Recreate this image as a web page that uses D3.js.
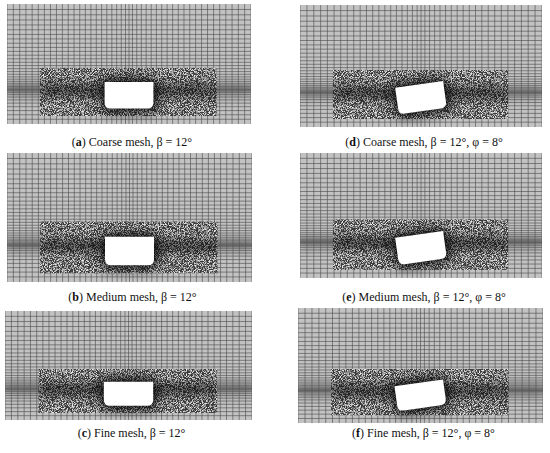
<!DOCTYPE html>
<html><head><meta charset="utf-8">
<script src="https://cdn.jsdelivr.net/npm/d3@7"></script>
<style>body{margin:0;background:#fff}</style>
</head><body>
<svg id="chart" width="550" height="453"></svg>
<script>
// panel data
const labels = ["a", "b", "c", "d", "e", "f"]
const meshNames = ["Coarse mesh", "Medium mesh", "Fine mesh", "Coarse mesh", "Medium mesh", "Fine mesh"]
const heelAngles = [0, 0, 0, 8, 8, 8]   // phi, degrees
const columns = [44, 44, 44, 40, 40, 40]  // vertical grid lines per panel
const rows = [28, 30, 26, 28, 30, 28]     // horizontal grid lines per panel
// panel boxes [x0, y0, x1, y1] and caption baseline
const boxes = [[7, 4, 251, 124], [7, 153, 252, 282], [5, 311, 252, 420],
               [300, 5, 542, 127], [300, 153, 542, 278], [298, 308, 543, 423]]
const captionY = [146, 301, 437, 146, 301, 437]

const svg = d3.select("#chart")
const defs = svg.append("defs")

// speckle texture for the unstructured zone
const f = defs.append("filter").attr("id", "speck").attr("x", 0).attr("y", 0).attr("width", 1).attr("height", 1)
f.append("feTurbulence").attr("type", "fractalNoise").attr("baseFrequency", 1.2).attr("numOctaves", 1).attr("seed", 3).attr("result", "n")
f.append("feColorMatrix").attr("in", "n").attr("type", "matrix")
  .attr("values", "0 0 0 0 0.85  0 0 0 0 0.85  0 0 0 0 0.85  4 0 0 0 -1.8").attr("result", "w")
f.append("feComposite").attr("in", "w").attr("in2", "SourceGraphic").attr("operator", "atop")

const blur = defs.append("filter").attr("id", "halo").attr("x", -1).attr("y", -1).attr("width", 3).attr("height", 3)
blur.append("feGaussianBlur").attr("stdDeviation", 6)

const bandBlur = defs.append("filter").attr("id", "band").attr("x", -0.2).attr("y", -2).attr("width", 1.4).attr("height", 5)
bandBlur.append("feGaussianBlur").attr("stdDeviation", "4 5")

labels.forEach((lab, i) => {
  const [x0, y0, x1, y1] = boxes[i]
  const w = x1 - x0, h = y1 - y0
  const g = svg.append("g").attr("transform", `translate(${x0},${y0})`)
  const clipId = "clip" + i
  defs.append("clipPath").attr("id", clipId).append("rect").attr("width", w).attr("height", h)
  const gc = g.append("g").attr("clip-path", `url(#${clipId})`)

  const x = d3.scaleLinear().domain([0, 1]).range([0, w])
  const y = d3.scaleLinear().domain([0, 1]).range([0, h])
  const wl = 0.72 // waterline

  gc.append("rect").attr("width", w).attr("height", h).attr("fill", "#c2c2c2")

  // vertical lines: slightly denser near the ends
  const vx = d3.scaleLinear().domain([0, columns[i]]).range([0, 1])
  d3.range(columns[i] + 1).forEach(k => {
    let t = vx(k)
    t = t < 0.5 ? 0.5 - 0.5 * Math.pow(1 - 2 * t, 1.15) : 0.5 + 0.5 * Math.pow(2 * t - 1, 1.15)
    gc.append("line").attr("x1", x(t)).attr("x2", x(t)).attr("y1", 0).attr("y2", h)
      .attr("stroke", "#4a4a4a").attr("stroke-width", 0.6)
  })
  // horizontal lines clustered toward the waterline
  const above = d3.scalePow().exponent(1.8).domain([0, 1]).range([wl, 0])
  d3.range(1, rows[i]).forEach(k => {
    const t = above(k / rows[i])
    gc.append("line").attr("x1", 0).attr("x2", w).attr("y1", y(t)).attr("y2", y(t))
      .attr("stroke", "#4a4a4a").attr("stroke-width", 0.6)
  })
  const below = d3.scalePow().exponent(1.6).domain([0, 1]).range([wl, 1])
  d3.range(1, 11).forEach(k => {
    const t = below(k / 11)
    gc.append("line").attr("x1", 0).attr("x2", w).attr("y1", y(t)).attr("y2", y(t))
      .attr("stroke", "#4a4a4a").attr("stroke-width", 0.6)
  })
  gc.append("rect").attr("x", 0).attr("width", w).attr("y", y(wl) - 5).attr("height", 10)
    .attr("fill", "#555").attr("opacity", 0.5).attr("filter", "url(#band)")

  // unstructured zone
  const dx0 = x(0.135), dx1 = x(0.86), dy0 = y(0.53), dy1 = y(0.935)
  const zone = gc.append("g")
  defs.append("clipPath").attr("id", "z" + i).append("rect")
    .attr("x", dx0).attr("y", dy0).attr("width", dx1 - dx0).attr("height", dy1 - dy0)
  zone.attr("clip-path", `url(#z${i})`)
  zone.append("rect").attr("x", dx0).attr("y", dy0).attr("width", dx1 - dx0).attr("height", dy1 - dy0)
    .attr("fill", "#3a3a3a").attr("filter", "url(#speck)")
  zone.append("rect").attr("x", dx0).attr("width", dx1 - dx0).attr("y", y(wl) - 6).attr("height", 12)
    .attr("fill", "#000").attr("opacity", 0.55).attr("filter", "url(#band)")

  // hull
  const hx = x(0.5), hy = y(0.76)
  const hw = x(0.2), hh = y(0.22)
  const hull = gc.append("g").attr("transform", `translate(${hx},${hy}) rotate(${-heelAngles[i]})`)
  hull.append("rect").attr("x", -hw / 2 - 3).attr("y", -hh / 2 - 3).attr("width", hw + 6).attr("height", hh + 6)
    .attr("rx", 6).attr("fill", "#000").attr("opacity", 0.9).attr("filter", "url(#halo)")
  hull.append("path")
    .attr("d", `M${-hw / 2},${-hh / 2} H${hw / 2} V${hh / 2 - 6} Q${hw / 2},${hh / 2} ${hw / 2 - 6},${hh / 2} H${-hw / 2 + 6} Q${-hw / 2},${hh / 2} ${-hw / 2},${hh / 2 - 6} Z`)
    .attr("fill", "#fff")

  // caption
  const cap = svg.append("text").attr("x", x0 + w / 2 + 3).attr("y", captionY[i])
    .attr("text-anchor", "middle").attr("font-family", "Liberation Serif, DejaVu Serif, serif")
    .attr("font-size", 12).attr("fill", "#111")
  cap.append("tspan").text("(")
  cap.append("tspan").attr("font-weight", "bold").text(lab)
  cap.append("tspan").text(") " + meshNames[i] + ", β = 12°" + (heelAngles[i] ? ", φ = " + heelAngles[i] + "°" : ""))
})
</script>
</body></html>
